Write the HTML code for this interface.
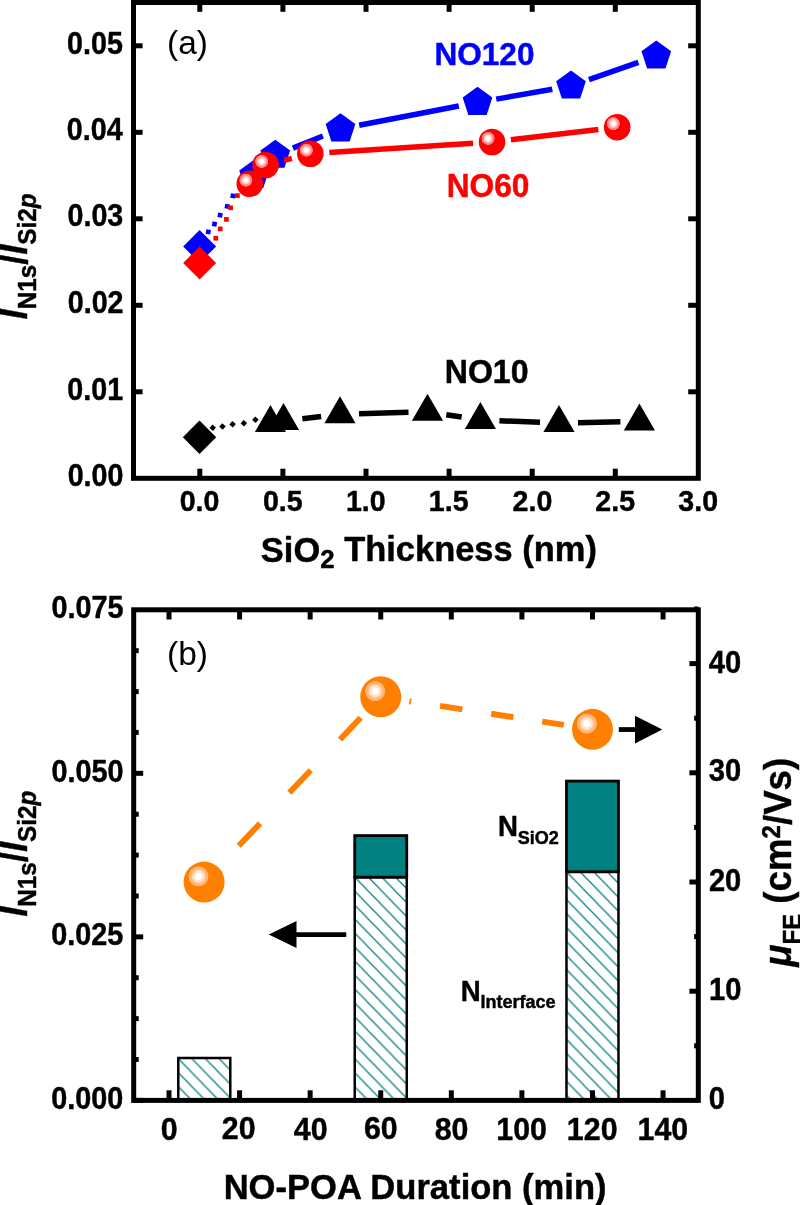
<!DOCTYPE html><html><head><meta charset="utf-8"><style>html,body{margin:0;padding:0;background:#fff;overflow:hidden}svg{display:block;will-change:transform}text{font-family:"Liberation Sans",sans-serif}</style></head><body>
<svg width="800" height="1205" viewBox="0 0 800 1205">
<defs>
<radialGradient id="hr" cx="0.5" cy="0.5" r="0.5">
<stop offset="0" stop-color="#fff"/><stop offset="0.3" stop-color="#fff"/>
<stop offset="0.4" stop-color="#ffd4d4"/><stop offset="0.62" stop-color="#ffbcbc"/>
<stop offset="0.68" stop-color="#ff9090"/><stop offset="0.92" stop-color="#ff7a7a"/><stop offset="1" stop-color="#ff0000"/>
</radialGradient>
<radialGradient id="ho" cx="0.5" cy="0.5" r="0.5">
<stop offset="0" stop-color="#fff"/><stop offset="0.31" stop-color="#fff"/>
<stop offset="0.38" stop-color="#ffe6cc"/><stop offset="0.6" stop-color="#ffdcb8"/>
<stop offset="0.65" stop-color="#ffc088"/><stop offset="0.94" stop-color="#ffb070"/><stop offset="1" stop-color="#ff8000"/>
</radialGradient>
<pattern id="hatch" patternUnits="userSpaceOnUse" width="13.563" height="13.563" patternTransform="translate(0,8.8) scale(1,1.03)">
<path d="M-3.391,10.172 L3.391,16.954 M0,0 L13.563,13.563 M10.172,-3.391 L16.954,3.391" stroke="#008080" stroke-width="1.2"/>
</pattern>
</defs>
<line x1="199.8" y1="478.3" x2="199.8" y2="468.7" stroke="#000" stroke-width="5" />
<line x1="199.8" y1="2.5" x2="199.8" y2="11.8" stroke="#000" stroke-width="5" />
<line x1="282.9" y1="478.3" x2="282.9" y2="468.7" stroke="#000" stroke-width="5" />
<line x1="282.9" y1="2.5" x2="282.9" y2="11.8" stroke="#000" stroke-width="5" />
<line x1="366" y1="478.3" x2="366" y2="468.7" stroke="#000" stroke-width="5" />
<line x1="366" y1="2.5" x2="366" y2="11.8" stroke="#000" stroke-width="5" />
<line x1="449.1" y1="478.3" x2="449.1" y2="468.7" stroke="#000" stroke-width="5" />
<line x1="449.1" y1="2.5" x2="449.1" y2="11.8" stroke="#000" stroke-width="5" />
<line x1="532.2" y1="478.3" x2="532.2" y2="468.7" stroke="#000" stroke-width="5" />
<line x1="532.2" y1="2.5" x2="532.2" y2="11.8" stroke="#000" stroke-width="5" />
<line x1="615.3" y1="478.3" x2="615.3" y2="468.7" stroke="#000" stroke-width="5" />
<line x1="615.3" y1="2.5" x2="615.3" y2="11.8" stroke="#000" stroke-width="5" />
<line x1="133.5" y1="391.8" x2="142.6" y2="391.8" stroke="#000" stroke-width="5" />
<line x1="698.3" y1="391.8" x2="688.2" y2="391.8" stroke="#000" stroke-width="5" />
<line x1="133.5" y1="305.3" x2="142.6" y2="305.3" stroke="#000" stroke-width="5" />
<line x1="698.3" y1="305.3" x2="688.2" y2="305.3" stroke="#000" stroke-width="5" />
<line x1="133.5" y1="218.8" x2="142.6" y2="218.8" stroke="#000" stroke-width="5" />
<line x1="698.3" y1="218.8" x2="688.2" y2="218.8" stroke="#000" stroke-width="5" />
<line x1="133.5" y1="132.3" x2="142.6" y2="132.3" stroke="#000" stroke-width="5" />
<line x1="698.3" y1="132.3" x2="688.2" y2="132.3" stroke="#000" stroke-width="5" />
<line x1="133.5" y1="45.8" x2="142.6" y2="45.8" stroke="#000" stroke-width="5" />
<line x1="698.3" y1="45.8" x2="688.2" y2="45.8" stroke="#000" stroke-width="5" />
<rect x="133.5" y="2.5" width="564.8" height="475.8" fill="none" stroke="#000" stroke-width="5"/>
<rect x="-2.35" y="-2.35" width="4.7" height="4.7" fill="#0000ff" transform="translate(208.3,231.9) rotate(10)"/>
<rect x="-2.35" y="-2.35" width="4.7" height="4.7" fill="#0000ff" transform="translate(214.5,224.06) rotate(10)"/>
<rect x="-2.35" y="-2.35" width="4.7" height="4.7" fill="#0000ff" transform="translate(220.1,215.1) rotate(10)"/>
<rect x="-2.35" y="-2.35" width="4.7" height="4.7" fill="#0000ff" transform="translate(227.2,206.4) rotate(10)"/>
<rect x="-2.35" y="-2.35" width="4.7" height="4.7" fill="#0000ff" transform="translate(232.9,195.9) rotate(10)"/>
<line x1="292.91" y1="148.12" x2="322.89" y2="135.98" stroke="#0000ff" stroke-width="5.5" stroke-linecap="butt"/>
<line x1="359.16" y1="125.25" x2="458.84" y2="106" stroke="#0000ff" stroke-width="5.5" stroke-linecap="butt"/>
<line x1="496.21" y1="99.12" x2="552.29" y2="89.28" stroke="#0000ff" stroke-width="5.5" stroke-linecap="butt"/>
<line x1="588.92" y1="79.7" x2="638.38" y2="62.3" stroke="#0000ff" stroke-width="5.5" stroke-linecap="butt"/>
<polygon points="199.6,230 216.1,246.5 199.6,263 183.1,246.5" fill="#0000ff"/>
<polygon points="254.1,159.8 268.94,170.58 263.27,188.02 244.93,188.02 239.26,170.58" fill="#0000ff"/>
<polygon points="275.3,139.65 290.14,150.43 284.47,167.87 266.13,167.87 260.46,150.43" fill="#0000ff"/>
<polygon points="340.5,113.25 355.34,124.03 349.67,141.47 331.33,141.47 325.66,124.03" fill="#0000ff"/>
<polygon points="477.5,86.8 492.34,97.58 486.67,115.02 468.33,115.02 462.66,97.58" fill="#0000ff"/>
<polygon points="571,70.4 585.84,81.18 580.17,98.62 561.83,98.62 556.16,81.18" fill="#0000ff"/>
<polygon points="656.3,40.4 671.14,51.18 665.47,68.62 647.13,68.62 641.46,51.18" fill="#0000ff"/>
<rect x="-2.35" y="-2.35" width="4.7" height="4.7" fill="#ff0000" transform="translate(215.8,238.25) rotate(0)"/>
<rect x="-2.35" y="-2.35" width="4.7" height="4.7" fill="#ff0000" transform="translate(220.2,228.9) rotate(0)"/>
<rect x="-2.35" y="-2.35" width="4.7" height="4.7" fill="#ff0000" transform="translate(226.4,219.4) rotate(0)"/>
<rect x="-2.35" y="-2.35" width="4.7" height="4.7" fill="#ff0000" transform="translate(230.6,207.8) rotate(0)"/>
<rect x="-2.35" y="-2.35" width="4.7" height="4.7" fill="#ff0000" transform="translate(237.4,195.6) rotate(0)"/>
<line x1="284.03" y1="160.36" x2="291.87" y2="158.39" stroke="#ff0000" stroke-width="5.5" stroke-linecap="butt"/>
<line x1="329.26" y1="152.52" x2="473.04" y2="143.23" stroke="#ff0000" stroke-width="5.5" stroke-linecap="butt"/>
<line x1="510.87" y1="139.77" x2="598.33" y2="129.43" stroke="#ff0000" stroke-width="5.5" stroke-linecap="butt"/>
<polygon points="199.6,246.4 216.1,262.9 199.6,279.4 183.1,262.9" fill="#ff0000"/>
<circle cx="249.8" cy="183.75" r="13.3" fill="#ff0000"/>
<circle cx="245.9" cy="180.15" r="6.8" fill="url(#hr)"/>
<circle cx="265.6" cy="165" r="13.3" fill="#ff0000"/>
<circle cx="261.7" cy="161.4" r="6.8" fill="url(#hr)"/>
<circle cx="310.3" cy="153.75" r="13.3" fill="#ff0000"/>
<circle cx="306.4" cy="150.15" r="6.8" fill="url(#hr)"/>
<circle cx="492" cy="142" r="13.3" fill="#ff0000"/>
<circle cx="488.1" cy="138.4" r="6.8" fill="url(#hr)"/>
<circle cx="617.2" cy="127.2" r="13.3" fill="#ff0000"/>
<circle cx="613.3" cy="123.6" r="6.8" fill="url(#hr)"/>
<rect x="-2.3" y="-2.3" width="4.6" height="4.6" fill="#000" transform="translate(212.7,427.8) rotate(40)"/>
<rect x="-2.3" y="-2.3" width="4.6" height="4.6" fill="#000" transform="translate(222.5,426.5) rotate(40)"/>
<rect x="-2.3" y="-2.3" width="4.6" height="4.6" fill="#000" transform="translate(232.6,424.25) rotate(40)"/>
<rect x="-2.3" y="-2.3" width="4.6" height="4.6" fill="#000" transform="translate(243.85,423.3) rotate(40)"/>
<rect x="-2.3" y="-2.3" width="4.6" height="4.6" fill="#000" transform="translate(255.4,419.75) rotate(40)"/>
<line x1="302.37" y1="418.75" x2="321.13" y2="416.5" stroke="#000" stroke-width="5.5" stroke-linecap="butt"/>
<line x1="358.99" y1="413.71" x2="408.51" y2="412.29" stroke="#000" stroke-width="5.5" stroke-linecap="butt"/>
<line x1="446.27" y1="414.68" x2="461.63" y2="417.07" stroke="#000" stroke-width="5.5" stroke-linecap="butt"/>
<line x1="499.39" y1="420.72" x2="540.01" y2="422.28" stroke="#000" stroke-width="5.5" stroke-linecap="butt"/>
<line x1="578" y1="422.65" x2="620.4" y2="421.85" stroke="#000" stroke-width="5.5" stroke-linecap="butt"/>
<polygon points="199.5,420.55 216.2,437.25 199.5,453.95 182.8,437.25" fill="#000"/>
<polygon points="270.45,405 286.04,432 254.86,432" fill="#000"/>
<polygon points="283.5,403 299.09,430 267.91,430" fill="#000"/>
<polygon points="340,396.25 355.59,423.25 324.41,423.25" fill="#000"/>
<polygon points="427.5,393.75 443.09,420.75 411.91,420.75" fill="#000"/>
<polygon points="480.4,402 495.99,429 464.81,429" fill="#000"/>
<polygon points="559,405 574.59,432 543.41,432" fill="#000"/>
<polygon points="639.4,403.5 654.99,430.5 623.81,430.5" fill="#000"/>
<rect x="178.29" y="1058" width="52" height="42.4" fill="url(#hatch)" stroke="#000" stroke-width="2.5"/>
<rect x="354.74" y="877.2" width="52" height="223.2" fill="url(#hatch)" stroke="#000" stroke-width="2.5"/>
<rect x="354.74" y="835.6" width="52" height="41.6" fill="#008080" stroke="#000" stroke-width="2.8"/>
<rect x="566.48" y="871.8" width="52" height="228.6" fill="url(#hatch)" stroke="#000" stroke-width="2.5"/>
<rect x="566.48" y="781.1" width="52" height="90.7" fill="#008080" stroke="#000" stroke-width="2.8"/>
<line x1="169" y1="1100.4" x2="169" y2="1090.3" stroke="#000" stroke-width="5" />
<line x1="169" y1="609.8" x2="169" y2="619.5" stroke="#000" stroke-width="5" />
<line x1="239.58" y1="1100.4" x2="239.58" y2="1090.3" stroke="#000" stroke-width="5" />
<line x1="239.58" y1="609.8" x2="239.58" y2="619.5" stroke="#000" stroke-width="5" />
<line x1="310.16" y1="1100.4" x2="310.16" y2="1090.3" stroke="#000" stroke-width="5" />
<line x1="310.16" y1="609.8" x2="310.16" y2="619.5" stroke="#000" stroke-width="5" />
<line x1="380.74" y1="1100.4" x2="380.74" y2="1090.3" stroke="#000" stroke-width="5" />
<line x1="380.74" y1="609.8" x2="380.74" y2="619.5" stroke="#000" stroke-width="5" />
<line x1="451.32" y1="1100.4" x2="451.32" y2="1090.3" stroke="#000" stroke-width="5" />
<line x1="451.32" y1="609.8" x2="451.32" y2="619.5" stroke="#000" stroke-width="5" />
<line x1="521.9" y1="1100.4" x2="521.9" y2="1090.3" stroke="#000" stroke-width="5" />
<line x1="521.9" y1="609.8" x2="521.9" y2="619.5" stroke="#000" stroke-width="5" />
<line x1="592.48" y1="1100.4" x2="592.48" y2="1090.3" stroke="#000" stroke-width="5" />
<line x1="592.48" y1="609.8" x2="592.48" y2="619.5" stroke="#000" stroke-width="5" />
<line x1="663.06" y1="1100.4" x2="663.06" y2="1090.3" stroke="#000" stroke-width="5" />
<line x1="663.06" y1="609.8" x2="663.06" y2="619.5" stroke="#000" stroke-width="5" />
<line x1="133.7" y1="650.68" x2="138.7" y2="650.68" stroke="#000" stroke-width="5" />
<line x1="133.7" y1="691.56" x2="138.7" y2="691.56" stroke="#000" stroke-width="5" />
<line x1="133.7" y1="732.45" x2="138.7" y2="732.45" stroke="#000" stroke-width="5" />
<line x1="133.7" y1="773.33" x2="143.2" y2="773.33" stroke="#000" stroke-width="5" />
<line x1="133.7" y1="814.21" x2="138.7" y2="814.21" stroke="#000" stroke-width="5" />
<line x1="133.7" y1="855.09" x2="138.7" y2="855.09" stroke="#000" stroke-width="5" />
<line x1="133.7" y1="895.98" x2="138.7" y2="895.98" stroke="#000" stroke-width="5" />
<line x1="133.7" y1="936.86" x2="143.2" y2="936.86" stroke="#000" stroke-width="5" />
<line x1="133.7" y1="977.74" x2="138.7" y2="977.74" stroke="#000" stroke-width="5" />
<line x1="133.7" y1="1018.62" x2="138.7" y2="1018.62" stroke="#000" stroke-width="5" />
<line x1="133.7" y1="1059.51" x2="138.7" y2="1059.51" stroke="#000" stroke-width="5" />
<line x1="133.7" y1="1100.39" x2="143.2" y2="1100.39" stroke="#000" stroke-width="5" />
<line x1="698.3" y1="1045.8" x2="694.1" y2="1045.8" stroke="#000" stroke-width="5" />
<line x1="698.3" y1="991.2" x2="689.4" y2="991.2" stroke="#000" stroke-width="5" />
<line x1="698.3" y1="936.6" x2="694.1" y2="936.6" stroke="#000" stroke-width="5" />
<line x1="698.3" y1="882" x2="689.4" y2="882" stroke="#000" stroke-width="5" />
<line x1="698.3" y1="827.4" x2="694.1" y2="827.4" stroke="#000" stroke-width="5" />
<line x1="698.3" y1="772.8" x2="689.4" y2="772.8" stroke="#000" stroke-width="5" />
<line x1="698.3" y1="718.2" x2="694.1" y2="718.2" stroke="#000" stroke-width="5" />
<line x1="698.3" y1="663.6" x2="689.4" y2="663.6" stroke="#000" stroke-width="5" />
<line x1="698.3" y1="609" x2="694.1" y2="609" stroke="#000" stroke-width="5" />
<rect x="133.7" y="609.8" width="564.6" height="490.6" fill="none" stroke="#000" stroke-width="5"/>
<line x1="224.11" y1="861.11" x2="360.74" y2="717.79" stroke="#ff8000" stroke-width="5.9" stroke-linecap="butt" stroke-dasharray="31,42.4" stroke-dashoffset="52.25"/>
<line x1="409.41" y1="701.21" x2="563.84" y2="724.94" stroke="#ff8000" stroke-width="5.9" stroke-linecap="butt" stroke-dasharray="22.5,29.2" stroke-dashoffset="20.7"/>
<circle cx="204.1" cy="882.1" r="20.5" fill="#ff8000"/>
<circle cx="198.5" cy="876.4" r="10.3" fill="url(#ho)"/>
<circle cx="380.75" cy="696.8" r="20.5" fill="#ff8000"/>
<circle cx="375.15" cy="691.1" r="10.3" fill="url(#ho)"/>
<circle cx="592.5" cy="729.35" r="20.5" fill="#ff8000"/>
<circle cx="586.9" cy="723.65" r="10.3" fill="url(#ho)"/>
<line x1="618.8" y1="729.55" x2="640" y2="729.55" stroke="#000" stroke-width="4.8" />
<polygon points="635,715.75 662.3,729.55 635,743.5" fill="#000"/>
<line x1="291" y1="934.6" x2="346.25" y2="934.6" stroke="#000" stroke-width="4.6" />
<polygon points="296.5,921 268.75,934.6 296.5,948.1" fill="#000"/>
<g transform="translate(123.458,486.245) scale(0.917,1)"><text x="0" y="0" font-size="31.268" text-anchor="end" font-weight="bold" fill="#000" stroke="#000" stroke-width="0.45">0.00</text></g>
<g transform="translate(123.086,399.691) scale(0.917,1)"><text x="0" y="0" font-size="31.268" text-anchor="end" font-weight="bold" fill="#000" stroke="#000" stroke-width="0.45">0.01</text></g>
<g transform="translate(123.549,313.245) scale(0.917,1)"><text x="0" y="0" font-size="31.268" text-anchor="end" font-weight="bold" fill="#000" stroke="#000" stroke-width="0.45">0.02</text></g>
<g transform="translate(123.295,226.497) scale(0.917,1)"><text x="0" y="0" font-size="31.268" text-anchor="end" font-weight="bold" fill="#000" stroke="#000" stroke-width="0.45">0.03</text></g>
<g transform="translate(122.605,140.311) scale(0.917,1)"><text x="0" y="0" font-size="31.268" text-anchor="end" font-weight="bold" fill="#000" stroke="#000" stroke-width="0.45">0.04</text></g>
<g transform="translate(122.836,53.691) scale(0.917,1)"><text x="0" y="0" font-size="31.268" text-anchor="end" font-weight="bold" fill="#000" stroke="#000" stroke-width="0.45">0.05</text></g>
<g transform="translate(199.506,511.255) scale(0.963,1)"><text x="0" y="0" font-size="29.64" text-anchor="middle" font-weight="bold" fill="#000" stroke="#000" stroke-width="0.45">0.0</text></g>
<g transform="translate(282.798,511.423) scale(0.963,1)"><text x="0" y="0" font-size="29.64" text-anchor="middle" font-weight="bold" fill="#000" stroke="#000" stroke-width="0.45">0.5</text></g>
<g transform="translate(365.731,511.423) scale(0.963,1)"><text x="0" y="0" font-size="29.64" text-anchor="middle" font-weight="bold" fill="#000" stroke="#000" stroke-width="0.45">1.0</text></g>
<g transform="translate(448.696,511.423) scale(0.963,1)"><text x="0" y="0" font-size="29.64" text-anchor="middle" font-weight="bold" fill="#000" stroke="#000" stroke-width="0.45">1.5</text></g>
<g transform="translate(532.422,511.264) scale(0.963,1)"><text x="0" y="0" font-size="29.64" text-anchor="middle" font-weight="bold" fill="#000" stroke="#000" stroke-width="0.45">2.0</text></g>
<g transform="translate(615.194,511.423) scale(0.963,1)"><text x="0" y="0" font-size="29.64" text-anchor="middle" font-weight="bold" fill="#000" stroke="#000" stroke-width="0.45">2.5</text></g>
<g transform="translate(698.186,511.264) scale(0.963,1)"><text x="0" y="0" font-size="29.64" text-anchor="middle" font-weight="bold" fill="#000" stroke="#000" stroke-width="0.45">3.0</text></g>
<g transform="translate(123.36,1108.713) scale(0.929,1)"><text x="0" y="0" font-size="31.01" text-anchor="end" font-weight="bold" fill="#000" stroke="#000" stroke-width="0.45">0.000</text></g>
<g transform="translate(123.264,945.086) scale(0.929,1)"><text x="0" y="0" font-size="31.01" text-anchor="end" font-weight="bold" fill="#000" stroke="#000" stroke-width="0.45">0.025</text></g>
<g transform="translate(123.592,781.57) scale(0.929,1)"><text x="0" y="0" font-size="31.01" text-anchor="end" font-weight="bold" fill="#000" stroke="#000" stroke-width="0.45">0.050</text></g>
<g transform="translate(123.467,617.856) scale(0.929,1)"><text x="0" y="0" font-size="31.01" text-anchor="end" font-weight="bold" fill="#000" stroke="#000" stroke-width="0.45">0.075</text></g>
<g transform="translate(169.259,1139.612) scale(0.95,1)"><text x="0" y="0" font-size="31.982" text-anchor="middle" font-weight="bold" fill="#000" stroke="#000" stroke-width="0.45">0</text></g>
<g transform="translate(238.648,1139.399) scale(0.95,1)"><text x="0" y="0" font-size="31.982" text-anchor="middle" font-weight="bold" fill="#000" stroke="#000" stroke-width="0.45">20</text></g>
<g transform="translate(310.647,1139.569) scale(0.95,1)"><text x="0" y="0" font-size="31.982" text-anchor="middle" font-weight="bold" fill="#000" stroke="#000" stroke-width="0.45">40</text></g>
<g transform="translate(380.777,1139.491) scale(0.95,1)"><text x="0" y="0" font-size="31.982" text-anchor="middle" font-weight="bold" fill="#000" stroke="#000" stroke-width="0.45">60</text></g>
<g transform="translate(451.573,1139.552) scale(0.95,1)"><text x="0" y="0" font-size="31.982" text-anchor="middle" font-weight="bold" fill="#000" stroke="#000" stroke-width="0.45">80</text></g>
<g transform="translate(521.588,1139.569) scale(0.95,1)"><text x="0" y="0" font-size="31.982" text-anchor="middle" font-weight="bold" fill="#000" stroke="#000" stroke-width="0.45">100</text></g>
<g transform="translate(592.187,1139.569) scale(0.95,1)"><text x="0" y="0" font-size="31.982" text-anchor="middle" font-weight="bold" fill="#000" stroke="#000" stroke-width="0.45">120</text></g>
<g transform="translate(662.888,1139.569) scale(0.95,1)"><text x="0" y="0" font-size="31.982" text-anchor="middle" font-weight="bold" fill="#000" stroke="#000" stroke-width="0.45">140</text></g>
<g transform="translate(708.749,1108.733) scale(0.953,1)"><text x="0" y="0" font-size="30.572" text-anchor="start" font-weight="bold" fill="#000" stroke="#000" stroke-width="0.45">0</text></g>
<g transform="translate(708.997,999.741) scale(0.953,1)"><text x="0" y="0" font-size="30.572" text-anchor="start" font-weight="bold" fill="#000" stroke="#000" stroke-width="0.45">10</text></g>
<g transform="translate(708.901,890.637) scale(0.953,1)"><text x="0" y="0" font-size="30.572" text-anchor="start" font-weight="bold" fill="#000" stroke="#000" stroke-width="0.45">20</text></g>
<g transform="translate(708.682,781.296) scale(0.953,1)"><text x="0" y="0" font-size="30.572" text-anchor="start" font-weight="bold" fill="#000" stroke="#000" stroke-width="0.45">30</text></g>
<g transform="translate(708.831,672.653) scale(0.953,1)"><text x="0" y="0" font-size="30.572" text-anchor="start" font-weight="bold" fill="#000" stroke="#000" stroke-width="0.45">40</text></g>
<g transform="translate(434.437,64.557) scale(1.012,1)"><text x="0" y="0" font-size="31.2" text-anchor="start" font-weight="bold" fill="#0000ff" stroke="#0000ff" stroke-width="0.45">NO120</text></g>
<g transform="translate(446.635,196.899) scale(0.973,1)"><text x="0" y="0" font-size="32.598" text-anchor="start" font-weight="bold" fill="#ff0000" stroke="#ff0000" stroke-width="0.45">NO60</text></g>
<g transform="translate(444.721,383.154) scale(0.993,1)"><text x="0" y="0" font-size="32.313" text-anchor="start" font-weight="bold" fill="#000" stroke="#000" stroke-width="0.45">NO10</text></g>
<g transform="translate(167.066,53.866) scale(0.993,1)"><text x="0" y="0" font-size="33.688" text-anchor="start" font-weight="normal" fill="#000">(a)</text></g>
<g transform="translate(167.063,665.428) scale(1.007,1)"><text x="0" y="0" font-size="33.243" text-anchor="start" font-weight="normal" fill="#000">(b)</text></g>
<g transform="translate(260.847,562.498) scale(0.979,1)"><text x="0" y="0" font-size="35.208" text-anchor="start" font-weight="bold" fill="#000" stroke="#000" stroke-width="0.45">SiO<tspan font-size="0.75em" dy="0.222em">2</tspan><tspan dy="-0.222em"> Thickness (nm)</tspan></text></g>
<g transform="translate(223.626,1199.033) scale(0.961,1)"><text x="0" y="0" font-size="36" text-anchor="start" font-weight="bold" fill="#000" stroke="#000" stroke-width="0.45">NO-POA Duration (min)</text></g>
<g transform="translate(27.4,319.396) rotate(-90) scale(0.934,1)"><text x="0" y="0" font-size="38.8" text-anchor="start" font-weight="bold" fill="#000" stroke="#000" stroke-width="0.45"><tspan font-style="italic">I</tspan><tspan font-size="26" dy="8.7">N1s</tspan><tspan dy="-8.7">/</tspan><tspan font-style="italic">I</tspan><tspan font-size="26" dy="8.7">Si2<tspan font-style="italic">p</tspan></tspan></text></g>
<g transform="translate(27.4,916.797) rotate(-90) scale(0.934,1)"><text x="0" y="0" font-size="38.8" text-anchor="start" font-weight="bold" fill="#000" stroke="#000" stroke-width="0.45"><tspan font-style="italic">I</tspan><tspan font-size="26" dy="8.7">N1s</tspan><tspan dy="-8.7">/</tspan><tspan font-style="italic">I</tspan><tspan font-size="26" dy="8.7">Si2<tspan font-style="italic">p</tspan></tspan></text></g>
<g transform="translate(791.3,966.644) rotate(-90) scale(0.924,1)"><text x="0" y="0" font-size="39.7" text-anchor="start" font-weight="bold" fill="#000" stroke="#000" stroke-width="0.45"><tspan font-style="italic">μ</tspan><tspan font-size="26" dy="9.5">FE</tspan><tspan dy="-9.5"> (cm</tspan><tspan font-size="26" dy="-11.2">2</tspan><tspan dy="11.2">/Vs)</tspan></text></g>
<g transform="translate(498.023,836.412) scale(0.957,1)"><text x="0" y="0" font-size="28.864" text-anchor="start" font-weight="bold" fill="#000" stroke="#000" stroke-width="0.45">N</text></g>
<g transform="translate(517.652,843.775) scale(0.942,1)"><text x="0" y="0" font-size="19.138" text-anchor="start" font-weight="bold" fill="#000" stroke="#000" stroke-width="0.45">SiO2</text></g>
<g transform="translate(460.832,1001.39) scale(0.957,1)"><text x="0" y="0" font-size="28.864" text-anchor="start" font-weight="bold" fill="#000" stroke="#000" stroke-width="0.45">N</text></g>
<g transform="translate(480.491,1007.801) scale(0.942,1)"><text x="0" y="0" font-size="19.138" text-anchor="start" font-weight="bold" fill="#000" stroke="#000" stroke-width="0.45">Interface</text></g>
</svg></body></html>
